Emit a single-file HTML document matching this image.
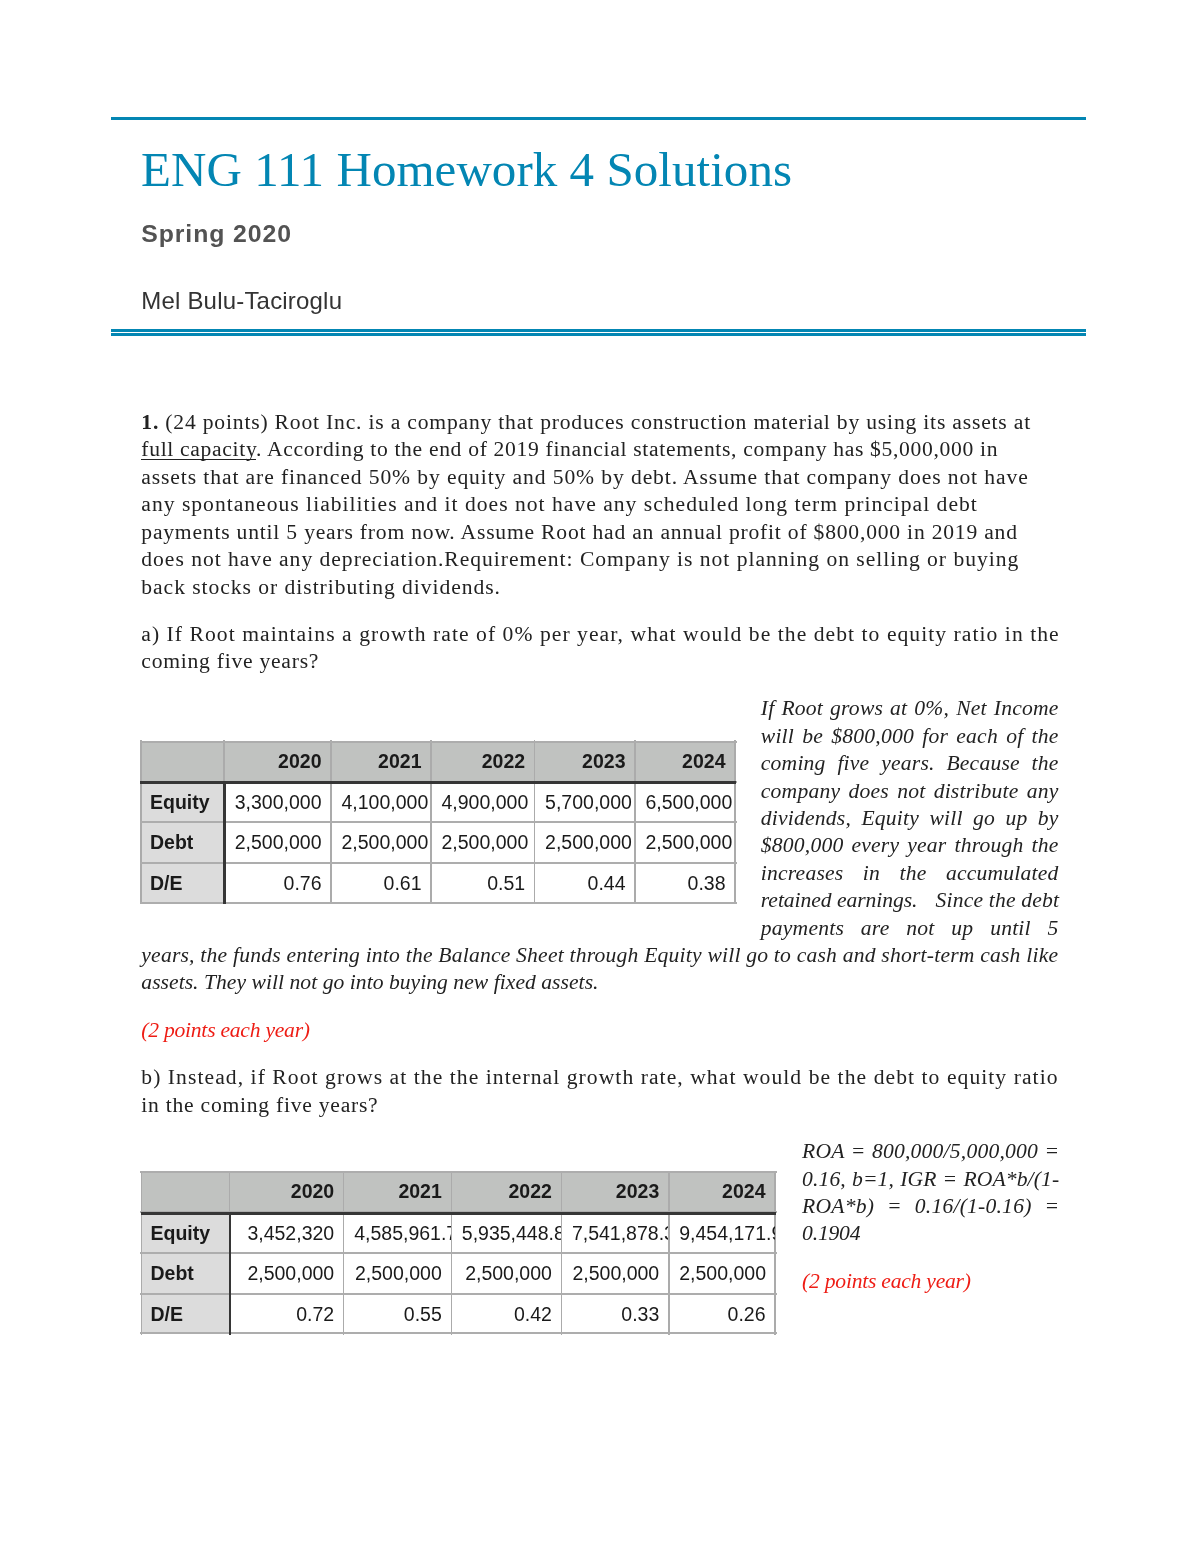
<!DOCTYPE html>
<html><head><meta charset="utf-8"><title>ENG 111 Homework 4 Solutions</title>
<style>
html,body{margin:0;padding:0;background:#fff;}
body{width:1200px;height:1553px;position:relative;overflow:hidden;color:#222;font-family:'Liberation Serif', serif;}
.l{position:absolute;white-space:nowrap;line-height:0;}
.j{white-space:normal;}
.r{position:absolute;background:#0386b3;}
.tb{position:absolute;}
.a{position:absolute;}
.c{position:absolute;white-space:nowrap;line-height:30px;height:30px;font-family:'Liberation Sans', sans-serif;font-size:19.5px;color:#1a1a1a;}
.cr{text-align:right;overflow:hidden;padding:0 9px 0 10px;box-sizing:border-box;}
#wrap{position:absolute;left:0;top:0;width:1200px;height:1553px;will-change:transform;}
</style></head><body><div id="wrap">
<div class="r" style="left:111.3px;top:117.2px;width:974.4px;height:2.6px;"></div>
<div class="r" style="left:111.3px;top:329.2px;width:974.4px;height:2.6px;"></div>
<div class="r" style="left:111.3px;top:333.2px;width:974.4px;height:2.6px;"></div>
<div class="r" style="left:141px;top:459px;width:115px;height:1.3px;background:#222"></div>
<div class="l" id="title" style="left:141px;top:169.66px;font-size:49px;font-family:'Liberation Serif', serif;letter-spacing:0.049px;color:#0386b3;"><span>ENG 111 Homework 4 Solutions</span></div>
<div class="l" id="spring" style="left:141.3px;top:234.21px;font-size:24.8px;font-family:'Liberation Sans', sans-serif;letter-spacing:0.912px;color:#535353;font-weight:bold;"><span>Spring 2020</span></div>
<div class="l" id="mel" style="left:141.3px;top:300.68px;font-size:24px;font-family:'Liberation Sans', sans-serif;letter-spacing:0.193px;color:#333;"><span>Mel Bulu-Taciroglu</span></div>
<div class="l" id="p1_0" style="left:141.3px;top:421.71px;font-size:21.6px;font-family:'Liberation Serif', serif;letter-spacing:0.809px;"><span><b>1.</b> (24 points) Root Inc. is a company that produces construction material by using its assets at</span></div>
<div class="l" id="p1_1" style="left:141.3px;top:449.21px;font-size:21.6px;font-family:'Liberation Serif', serif;letter-spacing:0.674px;"><span>full capacity. According to the end of 2019 financial statements, company has $5,000,000 in</span></div>
<div class="l" id="p1_2" style="left:141.3px;top:476.71px;font-size:21.6px;font-family:'Liberation Serif', serif;letter-spacing:0.894px;"><span>assets that are financed 50% by equity and 50% by debt. Assume that company does not have</span></div>
<div class="l" id="p1_3" style="left:141.3px;top:504.21px;font-size:21.6px;font-family:'Liberation Serif', serif;letter-spacing:1.006px;"><span>any spontaneous liabilities and it does not have any scheduled long term principal debt</span></div>
<div class="l" id="p1_4" style="left:141.3px;top:531.71px;font-size:21.6px;font-family:'Liberation Serif', serif;letter-spacing:0.794px;"><span>payments until 5 years from now. Assume Root had an annual profit of $800,000 in 2019 and</span></div>
<div class="l" id="p1_5" style="left:141.3px;top:559.21px;font-size:21.6px;font-family:'Liberation Serif', serif;letter-spacing:0.974px;"><span>does not have any depreciation.Requirement: Company is not planning on selling or buying</span></div>
<div class="l" id="p1_6" style="left:141.3px;top:586.71px;font-size:21.6px;font-family:'Liberation Serif', serif;letter-spacing:0.957px;"><span>back stocks or distributing dividends.</span></div>
<div class="l" id="a0" style="left:141.3px;top:633.51px;font-size:21.6px;font-family:'Liberation Serif', serif;letter-spacing:1.050px;"><span>a) If Root maintains a growth rate of 0% per year, what would be the debt to equity ratio in the</span></div>
<div class="l" id="a1" style="left:141.3px;top:661.41px;font-size:21.6px;font-family:'Liberation Serif', serif;letter-spacing:0.753px;"><span>coming five years?</span></div>
<div class="l" id="it0" style="left:760.8px;top:708.41px;font-size:21.6px;font-family:'Liberation Serif', serif;letter-spacing:0.209px;word-spacing:1.407px;font-style:italic;"><span>If Root grows at 0%, Net Income</span></div>
<div class="l" id="it1" style="left:760.8px;top:735.81px;font-size:21.6px;font-family:'Liberation Serif', serif;letter-spacing:0.209px;word-spacing:2.637px;font-style:italic;"><span>will be $800,000 for each of the</span></div>
<div class="l" id="it2" style="left:760.8px;top:763.21px;font-size:21.6px;font-family:'Liberation Serif', serif;letter-spacing:0.209px;word-spacing:6.178px;font-style:italic;"><span>coming five years. Because the</span></div>
<div class="l" id="it3" style="left:760.8px;top:790.61px;font-size:21.6px;font-family:'Liberation Serif', serif;letter-spacing:0.209px;word-spacing:2.661px;font-style:italic;"><span>company does not distribute any</span></div>
<div class="l" id="it4" style="left:760.8px;top:818.01px;font-size:21.6px;font-family:'Liberation Serif', serif;letter-spacing:0.209px;word-spacing:4.766px;font-style:italic;"><span>dividends, Equity will go up by</span></div>
<div class="l" id="it5" style="left:760.8px;top:845.41px;font-size:21.6px;font-family:'Liberation Serif', serif;letter-spacing:0.209px;word-spacing:2.418px;font-style:italic;"><span>$800,000 every year through the</span></div>
<div class="l" id="it6" style="left:760.8px;top:872.81px;font-size:21.6px;font-family:'Liberation Serif', serif;letter-spacing:0.209px;word-spacing:13.829px;font-style:italic;"><span>increases in the accumulated</span></div>
<div class="l" id="it7a" style="left:760.8px;top:900.21px;font-size:21.6px;font-family:'Liberation Serif', serif;letter-spacing:-0.050px;font-style:italic;"><span>retained earnings.</span></div>
<div class="l" id="it7b" style="left:935.5px;top:900.21px;font-size:21.6px;font-family:'Liberation Serif', serif;letter-spacing:0.183px;font-style:italic;"><span>Since the debt</span></div>
<div class="l" id="it8" style="left:760.8px;top:927.61px;font-size:21.6px;font-family:'Liberation Serif', serif;letter-spacing:0.209px;word-spacing:11.211px;font-style:italic;"><span>payments are not up until 5</span></div>
<div class="l" id="it9" style="left:141.3px;top:955.21px;font-size:21.6px;font-family:'Liberation Serif', serif;letter-spacing:0.209px;font-style:italic;"><span>years, the funds entering into the Balance Sheet through Equity will go to cash and short-term cash like</span></div>
<div class="l" id="it10" style="left:141.3px;top:982.21px;font-size:21.6px;font-family:'Liberation Serif', serif;letter-spacing:0.037px;font-style:italic;"><span>assets. They will not go into buying new fixed assets.</span></div>
<div class="l" id="red1" style="left:141.3px;top:1030.21px;font-size:21.6px;font-family:'Liberation Serif', serif;letter-spacing:-0.243px;color:#ee1c14;font-style:italic;"><span>(2 points each year)</span></div>
<div class="l" id="b0" style="left:141.3px;top:1076.91px;font-size:21.6px;font-family:'Liberation Serif', serif;letter-spacing:1.061px;"><span>b) Instead, if Root grows at the the internal growth rate, what would be the debt to equity ratio</span></div>
<div class="l" id="b1" style="left:141.3px;top:1104.71px;font-size:21.6px;font-family:'Liberation Serif', serif;letter-spacing:0.756px;"><span>in the coming five years?</span></div>
<div class="l" id="rt0" style="left:802.1px;top:1151.46px;font-size:21.6px;font-family:'Liberation Serif', serif;letter-spacing:0.205px;word-spacing:0.865px;font-style:italic;"><span>ROA = 800,000/5,000,000 =</span></div>
<div class="l" id="rt1" style="left:802.1px;top:1178.66px;font-size:21.6px;font-family:'Liberation Serif', serif;letter-spacing:0.114px;word-spacing:0.627px;font-style:italic;"><span>0.16, b=1, IGR = ROA*b/(1-</span></div>
<div class="l" id="rt2" style="left:802.1px;top:1205.86px;font-size:21.6px;font-family:'Liberation Serif', serif;letter-spacing:0.209px;word-spacing:7.382px;font-style:italic;"><span>ROA*b) = 0.16/(1-0.16) =</span></div>
<div class="l" id="rt3" style="left:802.1px;top:1232.71px;font-size:21.6px;font-family:'Liberation Serif', serif;letter-spacing:-0.198px;font-style:italic;"><span>0.1904</span></div>
<div class="l" id="red2" style="left:802.1px;top:1281.46px;font-size:21.6px;font-family:'Liberation Serif', serif;letter-spacing:-0.232px;color:#ee1c14;font-style:italic;"><span>(2 points each year)</span></div>
<div class="tb" style="left:141px;top:741.7px;width:594px;height:161.29999999999995px;"><div class="a" style="left:0;top:0;width:594px;height:40.299999999999955px;background:#c0c2c0"></div><div class="a" style="left:0;top:40.299999999999955px;width:83px;height:121px;background:#dcdcdc"></div><div class="a" style="left:-0.80px;top:-1.5px;width:1.6px;height:164.29999999999995px;background:#ababab"></div><div class="a" style="left:82.20px;top:-1.5px;width:1.6px;height:164.29999999999995px;background:#ababab"></div><div class="a" style="left:189.20px;top:-1.5px;width:1.6px;height:164.29999999999995px;background:#ababab"></div><div class="a" style="left:289.20px;top:-1.5px;width:1.6px;height:164.29999999999995px;background:#ababab"></div><div class="a" style="left:392.80px;top:-1.5px;width:1.6px;height:164.29999999999995px;background:#ababab"></div><div class="a" style="left:493.20px;top:-1.5px;width:1.6px;height:164.29999999999995px;background:#ababab"></div><div class="a" style="left:593.20px;top:-1.5px;width:1.6px;height:164.29999999999995px;background:#ababab"></div><div class="a" style="left:-1.5px;top:-0.90px;width:597px;height:1.8px;background:#adadad"></div><div class="a" style="left:-1.5px;top:39.40px;width:597px;height:1.8px;background:#adadad"></div><div class="a" style="left:-1.5px;top:79.40px;width:597px;height:1.8px;background:#adadad"></div><div class="a" style="left:-1.5px;top:120.40px;width:597px;height:1.8px;background:#adadad"></div><div class="a" style="left:-1.5px;top:160.40px;width:597px;height:1.8px;background:#adadad"></div><div class="a" style="left:-1px;top:39.55px;width:596px;height:3px;background:#363636"></div><div class="a" style="left:82.40px;top:40.30px;width:2.7px;height:122.50px;background:#363636"></div><div class="c cr" style="left:83.50px;width:106.00px;top:4.24px;font-weight:bold;">2020</div><div class="c cr" style="left:190.50px;width:99.00px;top:4.24px;font-weight:bold;">2021</div><div class="c cr" style="left:290.50px;width:102.60px;top:4.24px;font-weight:bold;">2022</div><div class="c cr" style="left:394.10px;width:99.40px;top:4.24px;font-weight:bold;">2023</div><div class="c cr" style="left:494.50px;width:99.00px;top:4.24px;font-weight:bold;">2024</div><div class="c" style="left:9px;top:45.54px;font-weight:bold;">Equity</div><div class="c cr" style="left:83.50px;width:106.00px;top:45.54px;">3,300,000</div><div class="c cr" style="left:190.50px;width:99.00px;top:45.54px;">4,100,000</div><div class="c cr" style="left:290.50px;width:102.60px;top:45.54px;">4,900,000</div><div class="c cr" style="left:394.10px;width:99.40px;top:45.54px;">5,700,000</div><div class="c cr" style="left:494.50px;width:99.00px;top:45.54px;">6,500,000</div><div class="c" style="left:9px;top:85.54px;font-weight:bold;">Debt</div><div class="c cr" style="left:83.50px;width:106.00px;top:85.54px;">2,500,000</div><div class="c cr" style="left:190.50px;width:99.00px;top:85.54px;">2,500,000</div><div class="c cr" style="left:290.50px;width:102.60px;top:85.54px;">2,500,000</div><div class="c cr" style="left:394.10px;width:99.40px;top:85.54px;">2,500,000</div><div class="c cr" style="left:494.50px;width:99.00px;top:85.54px;">2,500,000</div><div class="c" style="left:9px;top:126.54px;font-weight:bold;">D/E</div><div class="c cr" style="left:83.50px;width:106.00px;top:126.54px;">0.76</div><div class="c cr" style="left:190.50px;width:99.00px;top:126.54px;">0.61</div><div class="c cr" style="left:290.50px;width:102.60px;top:126.54px;">0.51</div><div class="c cr" style="left:394.10px;width:99.40px;top:126.54px;">0.44</div><div class="c cr" style="left:494.50px;width:99.00px;top:126.54px;">0.38</div></div>
<div class="tb" style="left:141.5px;top:1172px;width:633.5px;height:161.29999999999995px;"><div class="a" style="left:0;top:0;width:633.5px;height:40.299999999999955px;background:#c0c2c0"></div><div class="a" style="left:0;top:40.299999999999955px;width:87.80000000000001px;height:121.0px;background:#dcdcdc"></div><div class="a" style="left:-0.80px;top:-1.5px;width:1.6px;height:164.29999999999995px;background:#ababab"></div><div class="a" style="left:87.00px;top:-1.5px;width:1.6px;height:164.29999999999995px;background:#ababab"></div><div class="a" style="left:201.40px;top:-1.5px;width:1.6px;height:164.29999999999995px;background:#ababab"></div><div class="a" style="left:309.00px;top:-1.5px;width:1.6px;height:164.29999999999995px;background:#ababab"></div><div class="a" style="left:419.10px;top:-1.5px;width:1.6px;height:164.29999999999995px;background:#ababab"></div><div class="a" style="left:526.45px;top:-1.5px;width:1.6px;height:164.29999999999995px;background:#ababab"></div><div class="a" style="left:632.70px;top:-1.5px;width:1.6px;height:164.29999999999995px;background:#ababab"></div><div class="a" style="left:-1.5px;top:-0.90px;width:636.5px;height:1.8px;background:#adadad"></div><div class="a" style="left:-1.5px;top:39.40px;width:636.5px;height:1.8px;background:#adadad"></div><div class="a" style="left:-1.5px;top:80.10px;width:636.5px;height:1.8px;background:#adadad"></div><div class="a" style="left:-1.5px;top:120.90px;width:636.5px;height:1.8px;background:#adadad"></div><div class="a" style="left:-1.5px;top:160.40px;width:636.5px;height:1.8px;background:#adadad"></div><div class="a" style="left:-1px;top:39.55px;width:635.5px;height:3px;background:#363636"></div><div class="a" style="left:87.20px;top:40.30px;width:2.7px;height:122.50px;background:#363636"></div><div class="c cr" style="left:88.30px;width:113.40px;top:4.24px;font-weight:bold;">2020</div><div class="c cr" style="left:202.70px;width:106.60px;top:4.24px;font-weight:bold;">2021</div><div class="c cr" style="left:310.30px;width:109.10px;top:4.24px;font-weight:bold;">2022</div><div class="c cr" style="left:420.40px;width:106.35px;top:4.24px;font-weight:bold;">2023</div><div class="c cr" style="left:527.75px;width:105.25px;top:4.24px;font-weight:bold;">2024</div><div class="c" style="left:9px;top:45.54px;font-weight:bold;">Equity</div><div class="c cr" style="left:88.30px;width:113.40px;top:45.54px;">3,452,320</div><div class="c cr" style="left:202.70px;width:106.60px;top:45.54px;">4,585,961.7</div><div class="c cr" style="left:310.30px;width:109.10px;top:45.54px;">5,935,448.8</div><div class="c cr" style="left:420.40px;width:106.35px;top:45.54px;">7,541,878.3</div><div class="c cr" style="left:527.75px;width:105.25px;top:45.54px;">9,454,171.9</div><div class="c" style="left:9px;top:86.24px;font-weight:bold;">Debt</div><div class="c cr" style="left:88.30px;width:113.40px;top:86.24px;">2,500,000</div><div class="c cr" style="left:202.70px;width:106.60px;top:86.24px;">2,500,000</div><div class="c cr" style="left:310.30px;width:109.10px;top:86.24px;">2,500,000</div><div class="c cr" style="left:420.40px;width:106.35px;top:86.24px;">2,500,000</div><div class="c cr" style="left:527.75px;width:105.25px;top:86.24px;">2,500,000</div><div class="c" style="left:9px;top:127.04px;font-weight:bold;">D/E</div><div class="c cr" style="left:88.30px;width:113.40px;top:127.04px;">0.72</div><div class="c cr" style="left:202.70px;width:106.60px;top:127.04px;">0.55</div><div class="c cr" style="left:310.30px;width:109.10px;top:127.04px;">0.42</div><div class="c cr" style="left:420.40px;width:106.35px;top:127.04px;">0.33</div><div class="c cr" style="left:527.75px;width:105.25px;top:127.04px;">0.26</div></div>
</div></body></html>
